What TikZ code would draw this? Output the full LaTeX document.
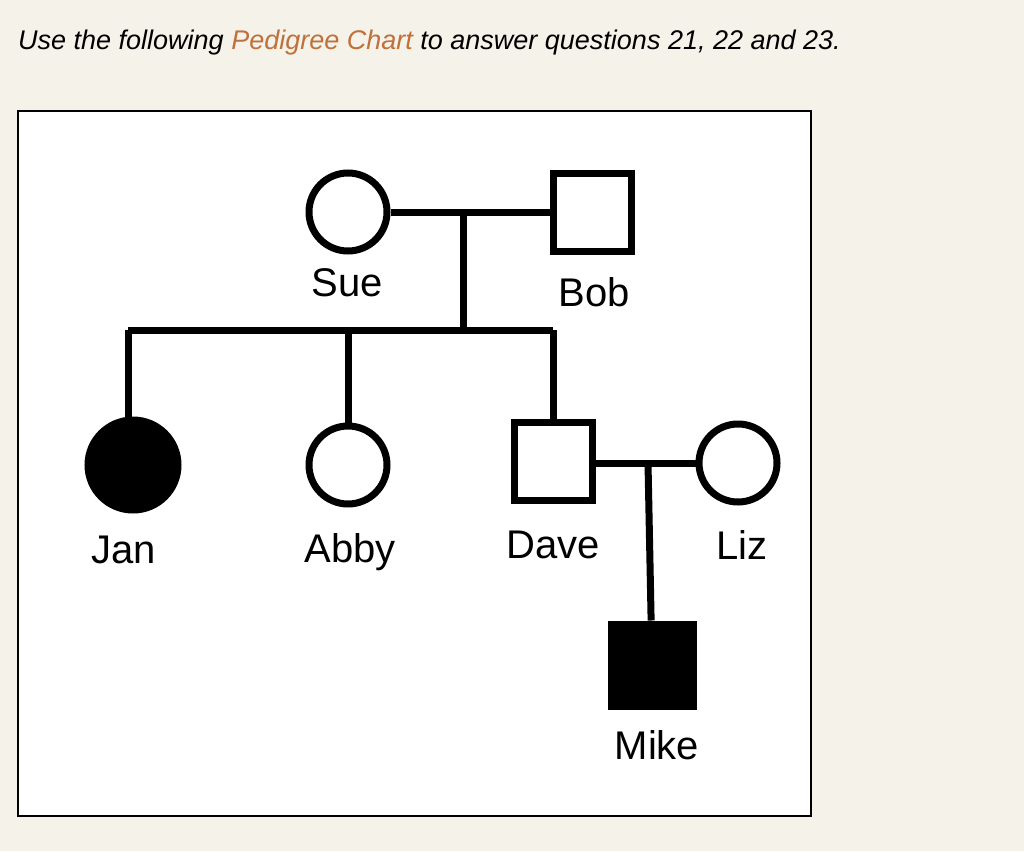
\documentclass[tikz,border=0pt]{standalone}
\usepackage{fontspec}
\setmainfont{Liberation Sans}
\definecolor{bg}{HTML}{F5F2EA}
\definecolor{lnk}{HTML}{C0703A}
\begin{document}
\begin{tikzpicture}[x=1pt,y=-1pt,
  ln/.style={line width=7pt},
  fem/.style={circle,draw,line width=7pt,minimum size=78pt,inner sep=0pt},
  mal/.style={rectangle,draw,line width=7pt,minimum size=78pt,inner sep=0pt},
  lab/.style={font=\fontsize{40}{40}\selectfont}]
\fill[bg] (0,0) rectangle (1024,851);
\useasboundingbox (0,0) rectangle (1024,851);
\node[anchor=west,font=\itshape\fontsize{27}{27}\selectfont,inner sep=0pt] (hdr) at (18,43) {Use the following \textcolor{lnk}{Pedigree Chart} to answer questions 21, 22 and 23.};
\draw[fill=white,line width=2pt] (18,111) rectangle (811,816);
\node[fem] (sue) at (348,212) {};
\node[mal] (bob) at (592,212) {};
\node[fem,fill=black,minimum size=90pt] (jan) at (133,465) {};
\node[fem] (abby) at (348,465) {};
\node[mal] (dave) at (553,461) {};
\node[fem] (liz) at (738,463) {};
\node[mal,fill=black,minimum size=82pt] (mike) at (652,665) {};
\coordinate (m1) at (463,212);
\coordinate (s1) at (463,330);
\coordinate (m2) at (648,463);
\draw[ln] (sue) -- (bob);
\draw[ln] (m1) -- (s1);
\draw[ln] (128,330) -- (553,330);
\draw[ln] (128,330) -- (jan.north -| 128,0);
\draw[ln] (348,330) -- (abby);
\draw[ln] (553,330) -- (dave);
\draw[ln] (dave.east |- m2) -- (liz);
\draw[ln] (m2) -- (mike);
\node[lab] (l1) at (347,283) {Sue};
\node[lab] (l2) at (594,292) {Bob};
\node[lab] (l3) at (124,550) {Jan};
\node[lab] (l4) at (350,552) {Abby};
\node[lab] (l5) at (553,545) {Dave};
\node[lab] (l6) at (742,545) {Liz};
\node[lab] (l7) at (657,745) {Mike};
\end{tikzpicture}
\end{document}
